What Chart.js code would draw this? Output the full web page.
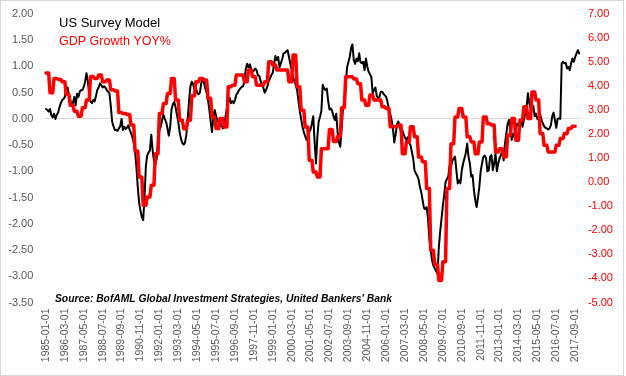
<!DOCTYPE html>
<html>
<head>
<meta charset="utf-8">
<script src="https://cdn.jsdelivr.net/npm/chart.js@4.4.1/dist/chart.umd.min.js"></script>
<style>
  html, body { margin: 0; padding: 0; background: #ffffff; }
  #wrap { position: relative; width: 626px; height: 376px; background: #ffffff; }
  #frame { position: absolute; left: 0; top: 0; width: 624px; height: 376px; box-sizing: border-box; border: 1px solid #d9d9d9; pointer-events: none; }
  canvas { position: absolute; left: 0; top: 0; }
</style>
</head>
<body>
<div id="wrap">
  <canvas id="c" width="626" height="376"></canvas>
  <div id="frame"></div>
</div>
<script>
// ---- categories: monthly, 1985-01 .. 2017-12 ----
const startYear = 1985;
const endYear = 2017;
const months = [];
for (let y = startYear; y <= endYear; y++) {
  for (let m = 1; m <= 12; m++) months.push(y + '-' + String(m).padStart(2, '0') + '-01');
}
const labelEvery = 14; // an axis label every 14 months (1985-01-01, 1986-03-01, ...)

// ---- US Survey Model (left axis), monthly ----
const surveyModel = [
  0.19, 0.17, 0.14, 0.19, 0.07, 0.03, 0.10, 0.00, 0.08, 0.12,
  0.22, 0.30, 0.36, 0.38, 0.42, 0.58, 0.60, 0.46, 0.36, 0.25,
  0.31, 0.42, 0.26, 0.48, 0.42, 0.52, 0.55, 0.55, 0.61, 0.71,
  0.87, 0.72, 0.46, 0.33, 0.30, 0.36, 0.33, 0.43, 0.55, 0.60,
  0.68, 0.64, 0.60, 0.62, 0.60, 0.55, 0.52, 0.49, 0.25, -0.05,
  -0.14, -0.21, -0.21, -0.23, -0.18, -0.14, 0.00, -0.21, -0.15, -0.19,
  -0.17, -0.12, -0.21, -0.27, -0.35, -0.45, -0.63, -0.92, -1.30, -1.60,
  -1.75, -1.87, -1.93, -1.50, -0.90, -0.69, -0.64, -0.60, -0.30, -0.60,
  -0.80, -0.86, -0.76, -0.40, -0.22, -0.15, -0.02, 0.08, 0.00, -0.06,
  -0.18, -0.32, -0.15, 0.18, 0.28, 0.32, 0.22, 0.08, -0.05, -0.25,
  -0.38, -0.46, -0.49, -0.45, -0.30, 0.00, 0.35, 0.62, 0.71, 0.66,
  0.56, 0.60, 0.50, 0.47, 0.50, 0.68, 0.75, 0.70, 0.58, 0.50,
  0.36, 0.18, -0.05, -0.25, 0.05, 0.17, 0.06, -0.03, -0.08, -0.13,
  -0.10, -0.18, -0.12, 0.05, 0.20, 0.32, 0.40, 0.30, 0.34, 0.30,
  0.36, 0.46, 0.50, 0.55, 0.58, 0.61, 0.62, 0.72, 0.95, 1.05,
  0.98, 1.04, 0.95, 0.90, 0.92, 0.96, 0.93, 0.83, 0.82, 0.72,
  0.65, 0.60, 0.50, 0.55, 0.62, 0.72, 0.78, 0.84, 0.88, 1.05,
  1.20, 1.12, 1.18, 0.98, 1.06, 1.14, 1.25, 1.26, 1.29, 1.31,
  1.18, 1.05, 0.93, 0.80, 0.72, 0.65, 0.55, 0.35, 0.15, 0.00,
  -0.15, -0.25, -0.33, -0.40, -0.33, -0.25, -0.20, -0.08, 0.05, -0.45,
  -0.85, -0.35, -0.05, 0.04, 0.15, 0.65, 0.58, 0.55, 0.58, 0.35,
  0.18, 0.20, 0.15, 0.05, -0.02, 0.10, -0.25, -0.45, -0.53, -0.20,
  0.20, 0.30, 0.60, 0.98, 1.08, 1.18, 1.35, 1.42, 1.12, 1.05,
  1.15, 1.10, 1.25, 1.08, 1.06, 1.09, 0.93, 1.15, 1.00, 0.90,
  0.85, 0.80, 0.49, 0.55, 0.60, 0.45, 0.38, 0.42, 0.52, 0.52,
  0.48, 0.45, 0.42, 0.32, 0.20, 0.10, -0.02, -0.18, -0.45, -0.30,
  -0.10, -0.05, -0.15, -0.25, -0.22, -0.30, -0.36, -0.40, -0.35, -0.45,
  -0.50, -0.62, -0.75, -0.98, -1.04, -1.08, -1.15, -1.30, -1.40, -1.55,
  -1.70, -1.72, -1.68, -1.90, -2.30, -2.50, -2.70, -2.80, -2.85, -2.90,
  -2.95, -2.45, -2.15, -1.90, -1.65, -1.45, -1.20, -1.15, -1.10, -0.88,
  -0.92, -0.80, -0.75, -0.72, -0.98, -1.23, -1.17, -1.23, -0.98, -0.85,
  -0.75, -0.65, -0.47, -0.72, -0.85, -1.10, -1.07, -1.36, -1.55, -1.68,
  -1.50, -1.30, -1.00, -0.85, -0.72, -0.70, -0.75, -1.00, -0.98, -0.72,
  -0.69, -0.98, -0.85, -0.66, -1.00, -0.85, -0.75, -0.69, -0.60, -0.79,
  -0.47, -0.28, -0.09, -0.02, -0.21, -0.40, -0.28, -0.34, -0.21, -0.09,
  -0.12, -0.05, -0.02, -0.15, -0.02, 0.10, 0.23, 0.49, 0.30, 0.20,
  0.20, 0.25, 0.05, 0.10, 0.00, -0.02, 0.10, -0.02, -0.08, -0.14,
  -0.17, -0.18, -0.20, -0.18, -0.12, 0.05, 0.12, -0.02, -0.17, 0.00,
  0.01, 0.00, 1.06, 1.09, 1.06, 1.07, 0.96, 0.99, 0.93, 1.06,
  1.15, 1.09, 1.18, 1.25, 1.31, 1.25
];

// ---- GDP Growth YoY % (right axis), quarterly 1985Q1 .. 2017Q3 ----
const gdpGrowthQuarterly = [
  4.55, 3.72, 4.32, 4.28, 4.18, 3.65, 3.20, 2.95, 2.75, 3.10,
  3.42, 4.40, 4.32, 4.46, 4.18, 4.25, 3.85, 3.80, 2.90, 2.86,
  2.82, 2.38, 1.30, 0.22, -0.96, -0.61, -0.12, 1.19, 2.86, 3.28,
  3.69, 4.32, 3.42, 2.58, 2.23, 2.58, 3.60, 4.18, 4.32, 4.25,
  3.50, 2.72, 2.24, 2.65, 2.30, 3.97, 4.04, 4.46, 4.46, 4.18,
  4.67, 4.39, 4.04, 4.04, 4.18, 5.01, 4.88, 4.67, 4.67, 4.67,
  4.18, 5.29, 3.97, 3.00, 2.30, 0.92, 0.43, 0.22, 1.40, 1.40,
  2.20, 1.70, 1.90, 3.10, 4.39, 4.39, 4.30, 4.10, 3.42, 3.20,
  3.63, 3.42, 3.42, 3.14, 3.07, 2.31, 2.31, 2.38, 1.19, 1.68,
  2.31, 1.89, 1.05, 0.85, -0.26, -2.83, -3.42, -4.08, -3.30, -0.26,
  1.60, 2.72, 3.07, 2.72, 1.89, 1.68, 1.19, 1.68, 2.72, 2.44,
  2.38, 1.26, 1.40, 1.06, 1.96, 2.65, 1.75, 2.58, 3.14, 2.65,
  3.76, 3.42, 2.03, 1.54, 1.26, 1.26, 1.54, 1.82, 2.03, 2.24,
  2.33
];

// each quarterly value holds for the three months of its quarter
const gdpGrowthMonthly = months.map((_, i) => {
  const q = Math.floor(i / 3);
  return q < gdpGrowthQuarterly.length ? gdpGrowthQuarterly[q] : null;
});

const legendTexts = ['US Survey Model', 'GDP Growth YOY%'];
const sourceText = "Source: BofAML Global Investment Strategies, United Bankers' Bank";

function fitText(ctx, text, x, y, maxW) {
  const w = ctx.measureText(text).width;
  const s = w > maxW ? maxW / w : 1;
  ctx.save();
  ctx.translate(x, y);
  ctx.scale(s, 1);
  ctx.fillText(text, 0, 0);
  ctx.restore();
}

const textPlugin = {
  id: 'texts',
  afterDraw(chart) {
    const ctx = chart.ctx;
    ctx.save();
    ctx.textAlign = 'left';
    ctx.textBaseline = 'middle';
    ctx.font = '13px "Liberation Sans", Arial, sans-serif';
    ctx.fillStyle = '#000000';
    fitText(ctx, legendTexts[0], 59, 23, 104);
    ctx.fillStyle = '#ff0000';
    fitText(ctx, legendTexts[1], 59, 41, 112);
    ctx.font = 'italic bold 11px "Liberation Sans", Arial, sans-serif';
    ctx.fillStyle = '#000000';
    fitText(ctx, sourceText, 55, 298.5, 337);
    ctx.restore();
  }
};

const tickFont = { family: '"Liberation Sans", Arial, sans-serif', size: 11 };

function fixVertical(width) {
  return (s) => {
    s.width = width;
    s.paddingTop = 0;
    s.paddingBottom = 0;
  };
}

new Chart(document.getElementById('c'), {
  type: 'line',
  data: {
    labels: months,
    datasets: [
      {
        label: legendTexts[1],
        data: gdpGrowthMonthly,
        yAxisID: 'y1',
        borderColor: '#ff0000',
        backgroundColor: '#ff0000',
        borderWidth: 3.5,
        pointRadius: 0,
        borderJoinStyle: 'round',
        borderCapStyle: 'round',
        tension: 0,
        spanGaps: false
      },
      {
        label: legendTexts[0],
        data: surveyModel,
        yAxisID: 'y',
        borderColor: '#000000',
        backgroundColor: '#000000',
        borderWidth: 2,
        pointRadius: 0,
        borderJoinStyle: 'round',
        borderCapStyle: 'round',
        tension: 0
      }
    ]
  },
  options: {
    responsive: false,
    animation: false,
    devicePixelRatio: 1,
    layout: { padding: { top: 14, left: 0, right: 0, bottom: 0 } },
    plugins: { legend: { display: false }, tooltip: { enabled: false } },
    scales: {
      x: {
        type: 'category',
        offset: true,
        grid: { display: false, drawTicks: false },
        border: { display: false },
        ticks: {
          autoSkip: false,
          minRotation: 90,
          maxRotation: 90,
          padding: 6,
          color: '#595959',
          font: { family: '"Liberation Sans", Arial, sans-serif', size: 10.5 },
          callback: (v, i) => (i % labelEvery === 0 ? months[i] : '')
        },
        afterFit: (s) => { s.height = 73.5; s.paddingLeft = 0; s.paddingRight = 0; }
      },
      y: {
        position: 'left',
        min: -3.5,
        max: 2,
        grid: {
          drawTicks: false,
          lineWidth: 1,
          color: (c) => (c.tick && c.tick.value === 0 ? '#d9d9d9' : 'rgba(0,0,0,0)')
        },
        border: { display: false },
        ticks: {
          stepSize: 0.5,
          padding: 12,
          color: '#595959',
          font: tickFont,
          callback: (v) => Number(v).toFixed(2)
        },
        afterFit: fixVertical(45.3)
      },
      y1: {
        position: 'right',
        min: -5,
        max: 7,
        grid: { display: false, drawTicks: false },
        border: { display: false },
        ticks: {
          stepSize: 1,
          padding: 8,
          color: '#ff0000',
          font: tickFont,
          callback: (v) => Number(v).toFixed(2)
        },
        afterFit: fixVertical(46.1)
      }
    }
  },
  plugins: [textPlugin]
});
</script>
</body>
</html>
